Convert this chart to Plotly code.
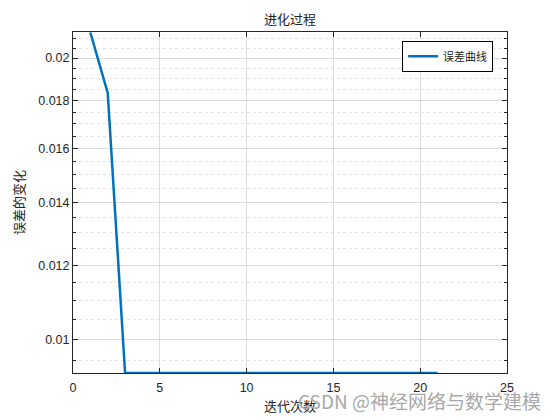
import plotly.graph_objects as go

# iteration number and error value
iters = list(range(1, 22))
errors = [0.0213, 0.01835] + [0.0092] * 19

y_ticks = [0.01, 0.012, 0.014, 0.016, 0.018, 0.02]
y_labels = ["0.01", "0.012", "0.014", "0.016", "0.018", "0.02"]
y_minor = [0.0095 + 0.0005 * i for i in range(25)]
x_ticks = [0, 5, 10, 15, 20, 25]

cjk = "Noto Sans CJK SC"
num = "Liberation Sans"

fig = go.Figure()
fig.add_trace(go.Scatter(x=iters, y=errors, mode="lines", name="误差曲线",
                         line=dict(color="#0072BD", width=2.5)))

# page body has an 8px margin, so margins are shifted to compensate
fig.update_layout(
    width=560, height=420,
    margin=dict(l=65, r=61, t=24, b=55),
    paper_bgcolor="white", plot_bgcolor="white",
    title=dict(text="进化过程", xref="paper", x=0.5, xanchor="center",
               y=0.972, yanchor="middle",
               font=dict(family=cjk, size=13, color="#222")),
    legend=dict(x=0.968, y=0.974, xanchor="right", yanchor="top",
                bordercolor="black", borderwidth=1, bgcolor="white",
                font=dict(family=cjk, size=11, color="#222")),
    showlegend=True,
)

fig.update_xaxes(
    range=[0, 25], tickvals=x_ticks, automargin=False,
    showline=True, linecolor="#262626", linewidth=1, mirror="ticks",
    ticks="inside", ticklen=5, tickcolor="#262626", ticklabelstandoff=3,
    showgrid=True, gridcolor="#DCDCDC", gridwidth=1, zeroline=False,
    tickfont=dict(family=num, size=12.5, color="#262626"),
    title=dict(text="迭代次数", font=dict(family=cjk, size=13, color="#222"), standoff=7),
)

fig.update_yaxes(
    type="log", range=[-2.0362, -1.6711], automargin=False,
    tickvals=y_ticks, ticktext=y_labels,
    showline=True, linecolor="#262626", linewidth=1, mirror="ticks",
    ticks="inside", ticklen=5, tickcolor="#262626",
    showgrid=True, gridcolor="#DCDCDC", gridwidth=1, zeroline=False,
    tickfont=dict(family=num, size=12.5, color="#262626"),
    minor=dict(tickvals=y_minor, ticks="inside", ticklen=3, tickcolor="#262626",
               showgrid=True, gridcolor="#E4E4E4", griddash="dot", gridwidth=1),
    title=dict(text="误差的变化", font=dict(family=cjk, size=13, color="#222"), standoff=10),
)

# watermark
fig.add_annotation(text="CSDN @神经网络与数学建模", xref="paper", yref="paper",
                   x=1.083, y=-0.08, xanchor="right", yanchor="middle", showarrow=False,
                   font=dict(family=cjk, size=19, color="#A8A8A8"))

fig.write_html("out.html")
